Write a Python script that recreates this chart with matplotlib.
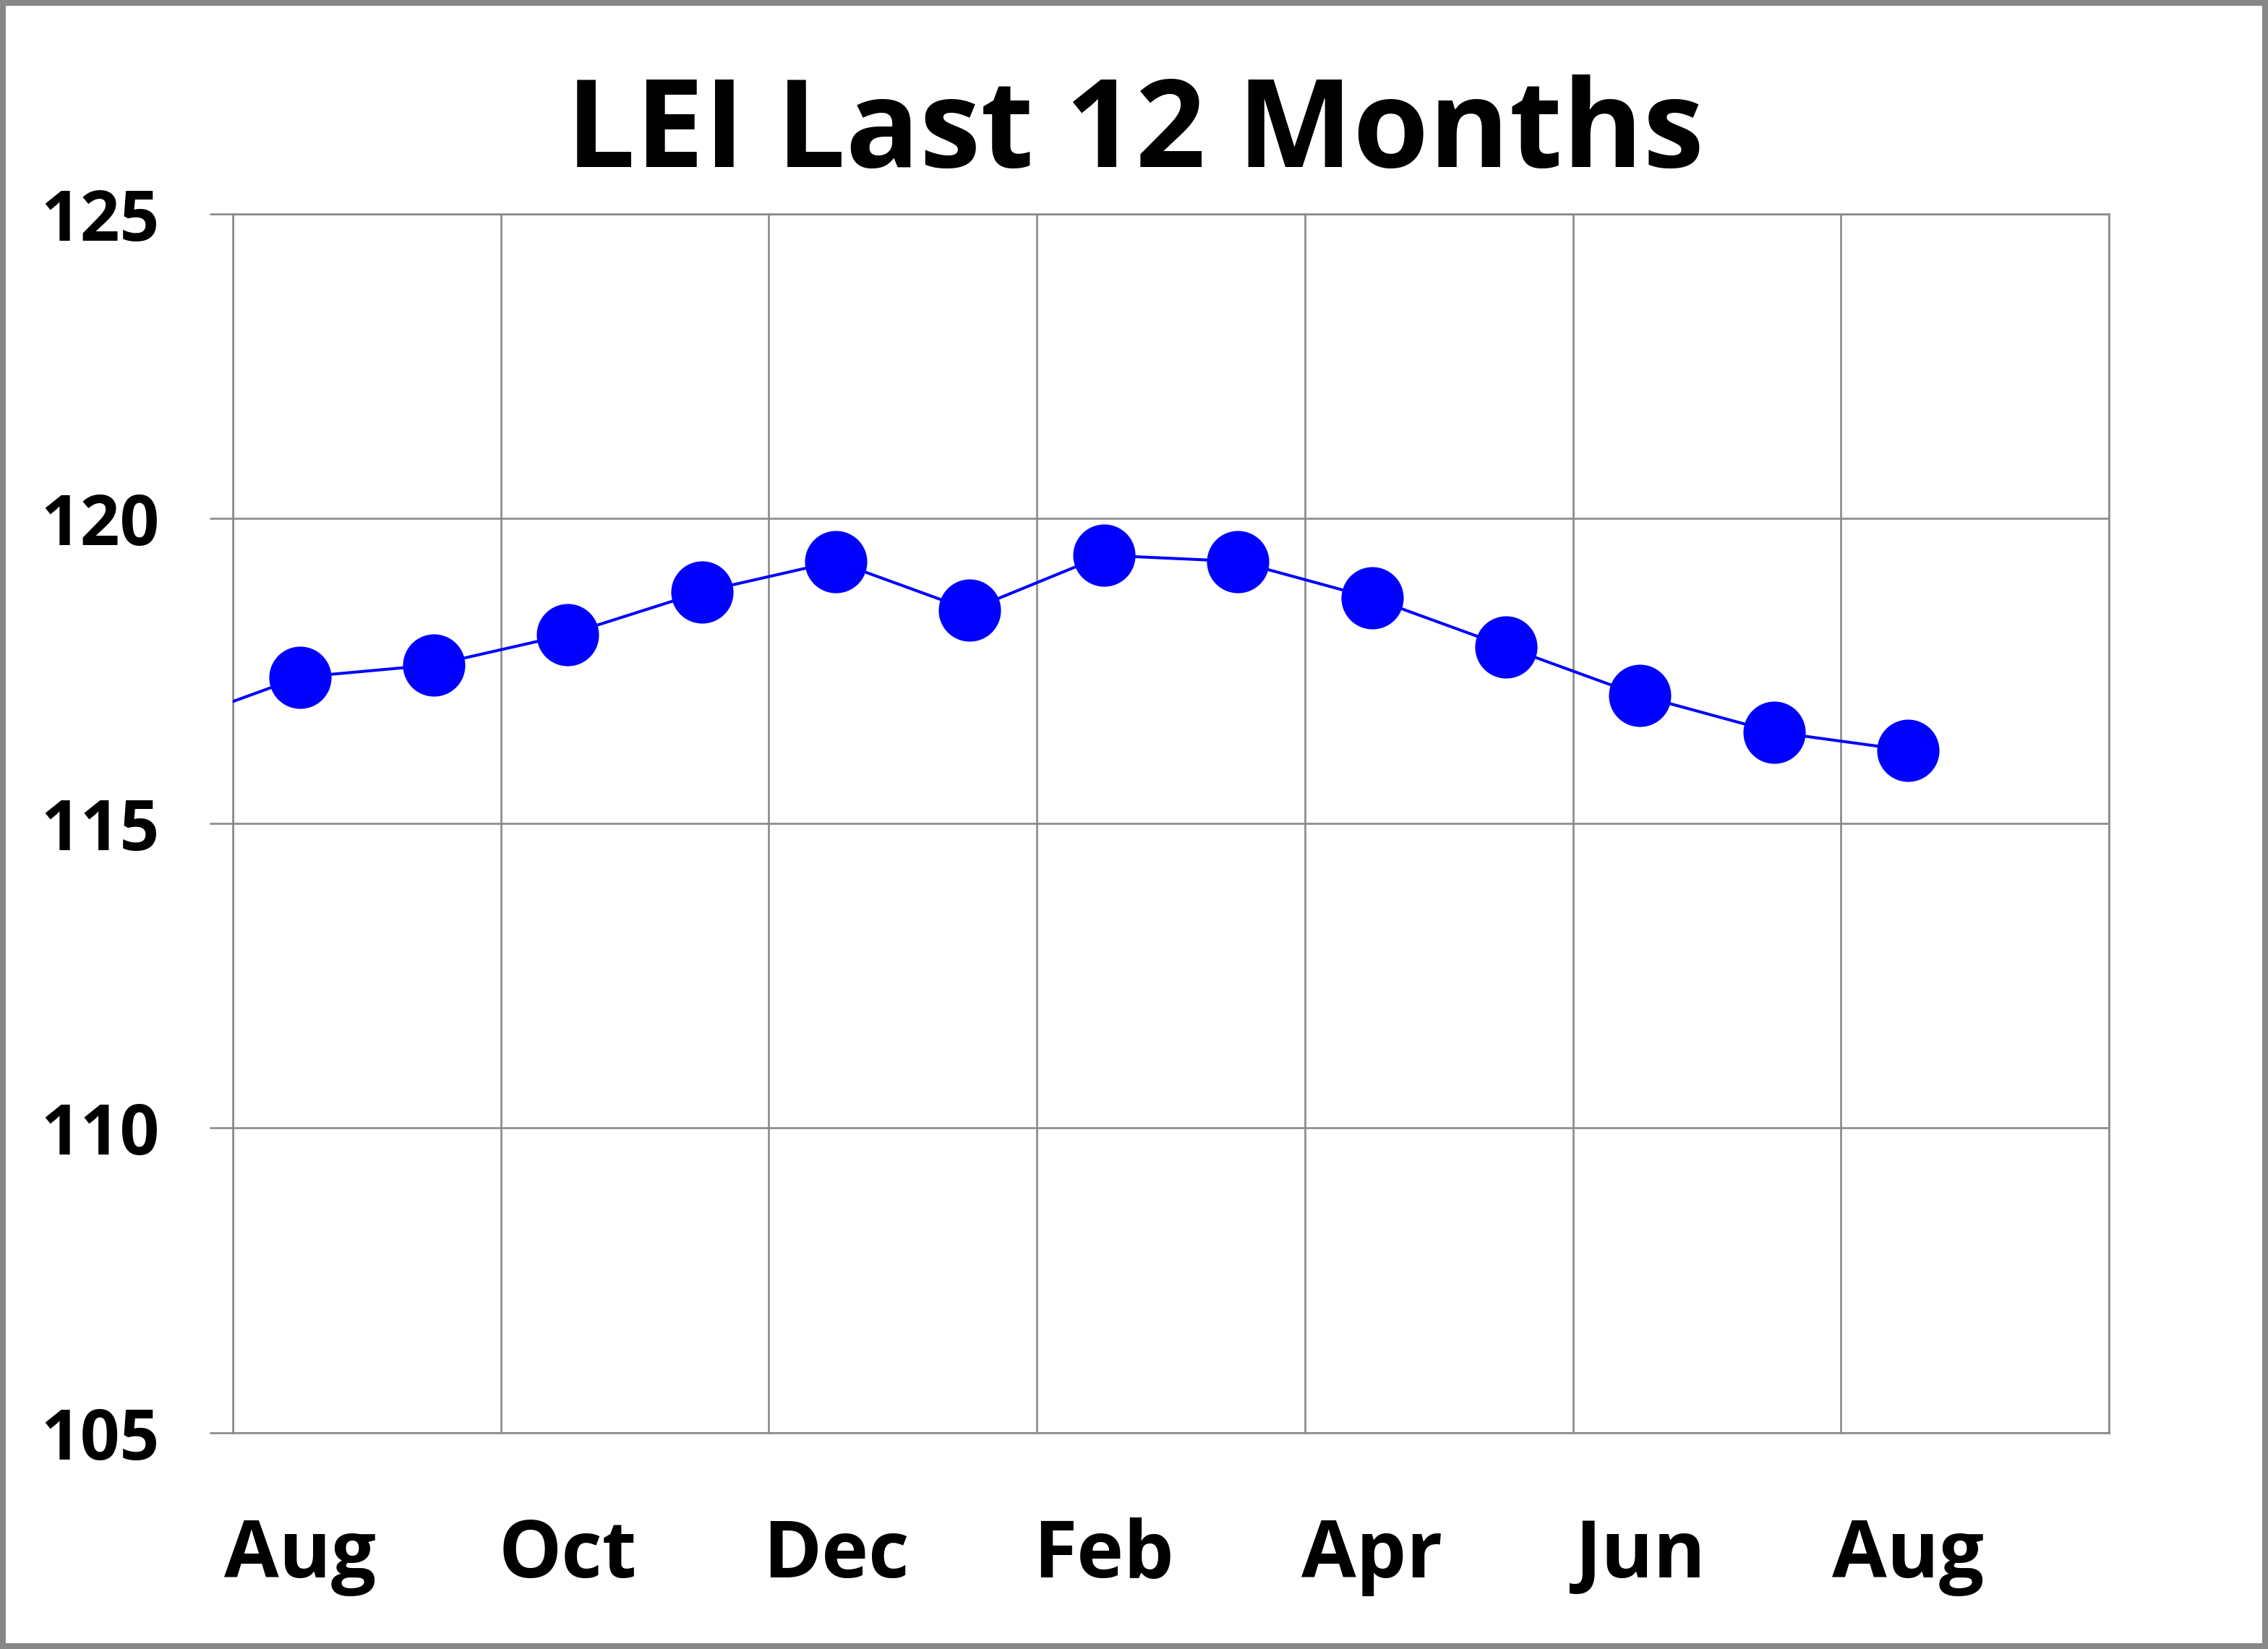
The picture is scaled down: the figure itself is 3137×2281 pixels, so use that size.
import matplotlib
matplotlib.use("Agg")
import matplotlib.pyplot as plt
from matplotlib.patches import Rectangle
import numpy as np

# ---- data ----
months = ["Jul", "Aug", "Sep", "Oct", "Nov", "Dec", "Jan", "Feb",
          "Mar", "Apr", "May", "Jun", "Jul", "Aug"]
lei = [116.6, 117.4, 117.6, 118.1, 118.8, 119.3, 118.5, 119.4,
       119.3, 118.7, 117.9, 117.1, 116.5, 116.2]
tick_labels = ["Aug", "Oct", "Dec", "Feb", "Apr", "Jun", "Aug"]
y_ticks = [105, 110, 115, 120, 125]
title = "LEI Last 12 Months"

plt.rcParams['font.family'] = ['Open Sans', 'DejaVu Sans']
plt.rcParams['font.weight'] = 'bold'

W, H = 3137, 2281
fig = plt.figure(figsize=(W / 100, H / 100), dpi=100)
ax = fig.add_axes([322 / W, 1 - 1982 / H, 2595 / W, 1686 / H])

grid_c = '#898989'
grid_lw = 1.9

x = np.arange(len(months)) - 1
ax.plot(x, lei, color='#0000FF', lw=2.9, marker='o', markersize=62,
        markerfacecolor='#0000FF', markeredgecolor='#0000FF', markeredgewidth=0,
        zorder=3)

ax.set_xlim(-0.5, 13.5)
ax.set_ylim(105, 125)

ax.set_xticks(np.arange(0, 13, 2))
ax.set_xticklabels(tick_labels)
ax.set_xticks(np.arange(-0.5, 14, 2), minor=True)
ax.set_yticks(y_ticks)
ax.set_yticklabels([str(v) for v in y_ticks])

ax.tick_params(axis='x', which='both', length=0, pad=84, labelsize=79)
ax.tick_params(axis='y', which='major', length=23, width=grid_lw, color=grid_c,
               pad=50, labelsize=69, direction='out')
ax.grid(axis='x', which='minor', color=grid_c, lw=grid_lw)
ax.grid(axis='y', which='major', color=grid_c, lw=grid_lw)
ax.set_axisbelow(True)
for s in ax.spines.values():
    s.set_color(grid_c)
    s.set_linewidth(grid_lw)

for lab in ax.get_xticklabels() + ax.get_yticklabels():
    lab.set_fontweight('bold')

fig.text(1570 / W, 1 - 231 / H, title, ha='center', va='baseline',
         fontsize=122, fontweight='bold')

fig.patches.append(Rectangle((0, 0), 1, 1, transform=fig.transFigure,
                             fill=False, lw=11.5, edgecolor='#878787'))

fig.savefig('out.png', dpi=100, facecolor='white')
